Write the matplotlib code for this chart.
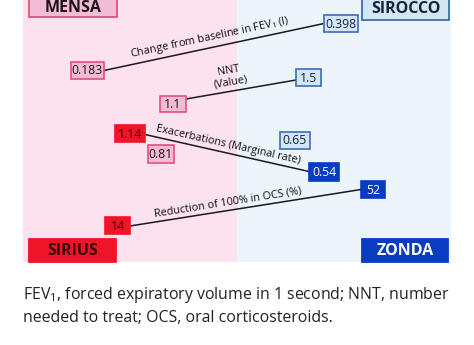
import math
import matplotlib
matplotlib.use("Agg")
import matplotlib.pyplot as plt
from matplotlib.patches import Rectangle

FONT = "Open Sans"
plt.rcParams["font.family"] = [FONT, "DejaVu Sans"]
plt.rcParams["mathtext.fontset"] = "custom"
plt.rcParams["mathtext.rm"] = FONT
plt.rcParams["mathtext.it"] = FONT

# ---------------- data ----------------
measures = ["Change from baseline in FEV$_1$ (l)", "NNT\n(Value)",
            "Exacerbations (Marginal rate)", "Reduction of 100% in OCS (%)"]
studies = ["MENSA", "SIROCCO", "SIRIUS", "ZONDA"]
# value boxes: (text, study)
value_labels = ["0.183", "0.398", "1.1", "1.5", "1.14", "0.81", "0.65", "0.54", "14", "52"]
value_study = ["MENSA", "SIROCCO", "MENSA", "SIROCCO", "SIRIUS", "MENSA", "SIROCCO", "ZONDA",
               "SIRIUS", "ZONDA"]
caption = ("FEV$_1$, forced expiratory volume in 1 second; NNT, number\n"
           "needed to treat; OCS, oral corticosteroids.")

# ---------------- layout (pixel coordinates) ----------------
W, H = 474, 345
value_boxes = [(71, 62, 104, 79), (324, 15, 358, 32), (160, 96, 186, 112), (296, 69, 321, 86),
               (115, 125, 145, 142), (148, 145, 174, 163), (280, 132, 310, 149),
               (309, 163, 339, 181), (105, 217, 130, 234), (361, 181, 385, 198)]
study_boxes = [(29, -3, 117, 17), (362, -3, 449, 20), (29, 239, 116, 262), (362, 239, 448, 262)]
connect = [(0, 1), (2, 3), (4, 7), (8, 9)]
connect_y = [(70.5, 23.5), (99, 80), (134.5, 171.5), (226, 189.5)]
label_frac = [0.49, 0.42, 0.5, 0.43]
label_off = [2.5, 3.5, 2.5, 2.5]

styles = {
    "MENSA": dict(fc="#f2bcd6", ec="#e2507a", tc="#1e1418"),
    "SIROCCO": dict(fc="#d3e6f5", ec="#3f6cb8", tc="#16243a"),
    "SIRIUS": dict(fc="#f01428", ec="#f01428", tc="#3a0508"),
    "ZONDA": dict(fc="#0a3cc2", ec="#0a3cc2", tc="#ffffff"),
}

fig = plt.figure(figsize=(W / 100, H / 100), dpi=100)
ax = fig.add_axes([0, 0, 1, 1])
ax.set_xlim(0, W)
ax.set_ylim(H, 0)
ax.axis("off")

# backgrounds
ax.add_patch(Rectangle((23, -1), 214, 263, fc="#fbe2ee", ec="none", zorder=0))
ax.add_patch(Rectangle((237, -1), 214, 263, fc="#ecf5fb", ec="none", zorder=0))

# study title boxes
for name, (x0, y0, x1, y1) in zip(studies, study_boxes):
    s = styles[name]
    ax.add_patch(Rectangle((x0, y0), x1 - x0, y1 - y0, fc=s["fc"], ec=s["ec"], lw=1.3, zorder=2))
    ax.text((x0 + x1) / 2, (y0 + y1) / 2 + 0.5, name, ha="center", va="center",
            fontsize=11.5, fontweight="bold", color=s["tc"], zorder=3)

# connector lines + labels
for (i, j), (ya, yb), lab, fr, off in zip(connect, connect_y, measures, label_frac, label_off):
    xa = value_boxes[i][2]
    xb = value_boxes[j][0]
    ax.plot([xa, xb], [ya, yb], color="#1a1a1a", lw=1.1, zorder=1)
    ang = math.degrees(math.atan2(-(yb - ya), xb - xa))
    xm = xa + fr * (xb - xa)
    ym = ya + fr * (yb - ya)
    r = math.radians(ang)
    ax.text(xm - off * math.sin(r), ym - off * math.cos(r), lab, rotation=ang,
            rotation_mode="anchor", ha="center", va="bottom", fontsize=7.8,
            color="#111111", linespacing=1.1, zorder=3)

# value boxes
for lab, st, (x0, y0, x1, y1) in zip(value_labels, value_study, value_boxes):
    s = styles[st]
    ax.add_patch(Rectangle((x0, y0), x1 - x0, y1 - y0, fc=s["fc"], ec=s["ec"], lw=1.2, zorder=2))
    ax.text((x0 + x1) / 2, (y0 + y1) / 2 + 0.5, lab, ha="center", va="center",
            fontsize=8.8, color=s["tc"], zorder=3)

ax.text(23, 285, caption, ha="left", va="top", fontsize=11.4, color="#222222", linespacing=1.38)

fig.savefig("out.png", dpi=100)
